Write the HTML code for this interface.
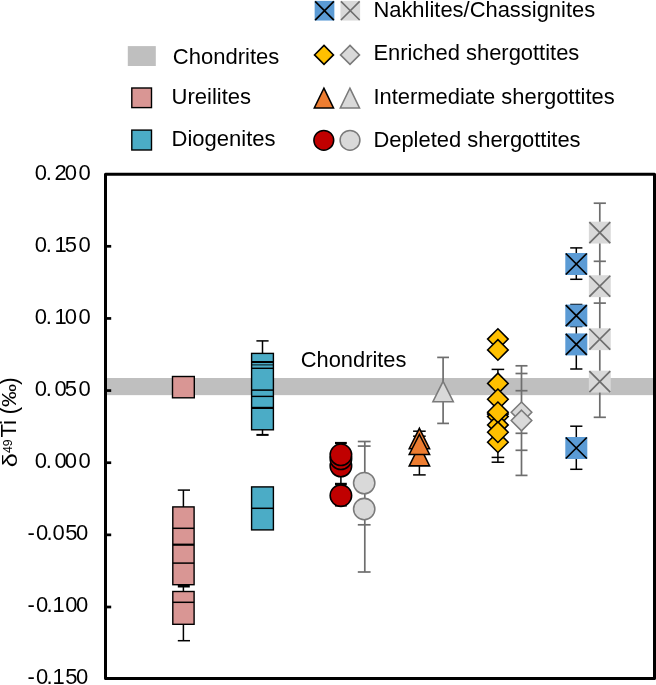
<!DOCTYPE html>
<html><head><meta charset="utf-8"><title>Ti isotopes</title>
<style>
html,body{margin:0;padding:0;background:#fff}
svg{display:block}
text{font-family:"Liberation Sans",sans-serif;fill:#000}
</style></head><body>
<svg width="656" height="685" viewBox="0 0 656 685">
<rect width="656" height="685" fill="#fff"/>
<rect x="105.50" y="378.00" width="550.00" height="17.15" fill="#bfbfbf"/>
<line x1="183.40" y1="490.10" x2="183.40" y2="640.70" stroke="#000" stroke-width="1.5"/>
<line x1="177.80" y1="490.10" x2="190.00" y2="490.10" stroke="#000" stroke-width="1.5"/>
<line x1="177.80" y1="640.70" x2="190.00" y2="640.70" stroke="#000" stroke-width="1.5"/>
<line x1="177.80" y1="586.20" x2="189.80" y2="586.20" stroke="#000" stroke-width="2.6"/>
<rect x="172.50" y="376.50" width="21.80" height="21.30" fill="#d99694" stroke="#000" stroke-width="1.4"/>
<rect x="172.80" y="506.90" width="21.30" height="77.80" fill="#d99694" stroke="#000" stroke-width="1.4"/>
<line x1="172.80" y1="528.30" x2="194.10" y2="528.30" stroke="#000" stroke-width="1.5"/>
<line x1="172.80" y1="544.70" x2="194.10" y2="544.70" stroke="#000" stroke-width="2.2"/>
<line x1="172.80" y1="563.10" x2="194.10" y2="563.10" stroke="#000" stroke-width="1.5"/>
<rect x="172.80" y="591.50" width="21.30" height="32.80" fill="#d99694" stroke="#000" stroke-width="1.4"/>
<line x1="172.80" y1="602.30" x2="194.10" y2="602.30" stroke="#000" stroke-width="1.5"/>
<line x1="262.50" y1="340.90" x2="262.50" y2="434.90" stroke="#000" stroke-width="1.5"/>
<line x1="256.40" y1="340.90" x2="268.60" y2="340.90" stroke="#000" stroke-width="1.5"/>
<line x1="256.40" y1="434.90" x2="268.60" y2="434.90" stroke="#000" stroke-width="2.0"/>
<rect x="251.60" y="353.40" width="21.80" height="76.40" fill="#4bacc6" stroke="#000" stroke-width="1.4"/>
<line x1="251.60" y1="362.00" x2="273.40" y2="362.00" stroke="#000" stroke-width="2.0"/>
<line x1="251.60" y1="364.90" x2="273.40" y2="364.90" stroke="#000" stroke-width="0.9"/>
<line x1="251.60" y1="368.30" x2="273.40" y2="368.30" stroke="#000" stroke-width="1.4"/>
<line x1="251.60" y1="390.10" x2="273.40" y2="390.10" stroke="#000" stroke-width="1.5"/>
<line x1="251.60" y1="396.40" x2="273.40" y2="396.40" stroke="#000" stroke-width="1.4"/>
<line x1="251.60" y1="407.90" x2="273.40" y2="407.90" stroke="#000" stroke-width="2.2"/>
<rect x="251.60" y="486.90" width="21.80" height="43.00" fill="#4bacc6" stroke="#000" stroke-width="1.4"/>
<line x1="251.60" y1="508.30" x2="273.40" y2="508.30" stroke="#000" stroke-width="1.5"/>
<line x1="340.90" y1="443.00" x2="340.90" y2="505.70" stroke="#000" stroke-width="1.5"/>
<line x1="335.00" y1="443.00" x2="346.80" y2="443.00" stroke="#000" stroke-width="2.2"/>
<line x1="335.00" y1="484.00" x2="346.80" y2="484.00" stroke="#000" stroke-width="2.4"/>
<line x1="335.00" y1="505.70" x2="346.80" y2="505.70" stroke="#000" stroke-width="1.8"/>
<circle cx="340.90" cy="466.00" r="10.75" fill="#c00000" stroke="#000" stroke-width="1.55"/>
<circle cx="340.90" cy="458.80" r="10.75" fill="#c00000" stroke="#000" stroke-width="1.55"/>
<circle cx="340.90" cy="454.80" r="10.75" fill="#c00000" stroke="#000" stroke-width="1.55"/>
<circle cx="340.90" cy="495.60" r="10.75" fill="#c00000" stroke="#000" stroke-width="1.55"/>
<line x1="364.80" y1="441.50" x2="364.80" y2="572.00" stroke="#6e6e6e" stroke-width="1.7"/>
<line x1="357.80" y1="441.50" x2="370.60" y2="441.50" stroke="#6e6e6e" stroke-width="1.7"/>
<line x1="357.80" y1="446.10" x2="370.60" y2="446.10" stroke="#6e6e6e" stroke-width="1.7"/>
<line x1="357.80" y1="524.80" x2="370.60" y2="524.80" stroke="#6e6e6e" stroke-width="1.7"/>
<line x1="357.80" y1="572.00" x2="370.60" y2="572.00" stroke="#6e6e6e" stroke-width="1.7"/>
<circle cx="364.20" cy="483.10" r="10.65" fill="#d9d9d9" stroke="#7a7a7a" stroke-width="1.55"/>
<circle cx="364.20" cy="509.00" r="10.65" fill="#d9d9d9" stroke="#7a7a7a" stroke-width="1.55"/>
<line x1="419.40" y1="431.20" x2="419.40" y2="474.90" stroke="#000" stroke-width="1.5"/>
<line x1="413.10" y1="431.20" x2="425.70" y2="431.20" stroke="#000" stroke-width="1.5"/>
<line x1="413.10" y1="436.20" x2="425.70" y2="436.20" stroke="#000" stroke-width="1.5"/>
<line x1="413.10" y1="474.90" x2="425.70" y2="474.90" stroke="#000" stroke-width="1.5"/>
<path d="M419.40 428.30L429.60 448.75L409.20 448.75Z" fill="#ed7d31" stroke="#000" stroke-width="1.55" stroke-linejoin="miter"/>
<path d="M419.40 445.40L429.60 465.85L409.20 465.85Z" fill="#ed7d31" stroke="#000" stroke-width="1.55" stroke-linejoin="miter"/>
<path d="M419.40 434.50L429.60 454.45L409.20 454.45Z" fill="#ed7d31" stroke="#000" stroke-width="1.55" stroke-linejoin="miter"/>
<line x1="443.10" y1="357.40" x2="443.10" y2="423.40" stroke="#6e6e6e" stroke-width="1.7"/>
<line x1="437.20" y1="357.40" x2="449.00" y2="357.40" stroke="#6e6e6e" stroke-width="1.7"/>
<line x1="437.20" y1="423.40" x2="449.00" y2="423.40" stroke="#6e6e6e" stroke-width="1.7"/>
<path d="M443.10 381.30L453.30 401.65L432.90 401.65Z" fill="#d9d9d9" stroke="#7a7a7a" stroke-width="1.55" stroke-linejoin="miter"/>
<line x1="497.90" y1="369.40" x2="497.90" y2="462.20" stroke="#000" stroke-width="1.5"/>
<line x1="491.60" y1="369.40" x2="504.20" y2="369.40" stroke="#000" stroke-width="1.5"/>
<line x1="491.60" y1="457.40" x2="504.20" y2="457.40" stroke="#000" stroke-width="1.5"/>
<line x1="491.60" y1="462.20" x2="504.20" y2="462.20" stroke="#000" stroke-width="1.5"/>
<path d="M497.90 328.80L508.20 339.10L497.90 349.40L487.60 339.10Z" fill="#ffc000" stroke="#000" stroke-width="1.55" stroke-linejoin="miter"/>
<path d="M497.90 339.60L508.20 349.90L497.90 360.20L487.60 349.90Z" fill="#ffc000" stroke="#000" stroke-width="1.55" stroke-linejoin="miter"/>
<path d="M497.90 373.10L508.20 383.40L497.90 393.70L487.60 383.40Z" fill="#ffc000" stroke="#000" stroke-width="1.55" stroke-linejoin="miter"/>
<path d="M497.90 389.00L508.20 399.30L497.90 409.60L487.60 399.30Z" fill="#ffc000" stroke="#000" stroke-width="1.55" stroke-linejoin="miter"/>
<path d="M497.90 403.70L508.20 414.00L497.90 424.30L487.60 414.00Z" fill="#ffc000" stroke="#000" stroke-width="1.55" stroke-linejoin="miter"/>
<path d="M497.90 406.30L508.20 416.60L497.90 426.90L487.60 416.60Z" fill="#ffc000" stroke="#000" stroke-width="1.55" stroke-linejoin="miter"/>
<path d="M497.90 414.60L508.20 424.90L497.90 435.20L487.60 424.90Z" fill="#ffc000" stroke="#000" stroke-width="1.55" stroke-linejoin="miter"/>
<path d="M497.90 431.90L508.20 442.20L497.90 452.50L487.60 442.20Z" fill="#ffc000" stroke="#000" stroke-width="1.55" stroke-linejoin="miter"/>
<path d="M497.90 402.00L508.20 412.30L497.90 422.60L487.60 412.30Z" fill="#ffc000" stroke="#000" stroke-width="1.55" stroke-linejoin="miter"/>
<path d="M497.90 421.90L508.20 432.20L497.90 442.50L487.60 432.20Z" fill="#ffc000" stroke="#000" stroke-width="1.55" stroke-linejoin="miter"/>
<line x1="521.50" y1="365.80" x2="521.50" y2="475.40" stroke="#6e6e6e" stroke-width="1.7"/>
<line x1="515.50" y1="365.80" x2="527.50" y2="365.80" stroke="#6e6e6e" stroke-width="1.7"/>
<line x1="515.50" y1="373.50" x2="527.50" y2="373.50" stroke="#6e6e6e" stroke-width="1.7"/>
<line x1="515.50" y1="390.70" x2="527.50" y2="390.70" stroke="#6e6e6e" stroke-width="1.7"/>
<line x1="515.50" y1="433.30" x2="527.50" y2="433.30" stroke="#6e6e6e" stroke-width="1.7"/>
<line x1="515.50" y1="450.30" x2="527.50" y2="450.30" stroke="#6e6e6e" stroke-width="1.7"/>
<line x1="515.50" y1="475.40" x2="527.50" y2="475.40" stroke="#6e6e6e" stroke-width="1.7"/>
<path d="M521.50 402.00L531.80 412.30L521.50 422.60L511.20 412.30Z" fill="#d9d9d9" stroke="#7a7a7a" stroke-width="1.55" stroke-linejoin="miter"/>
<path d="M521.50 410.20L531.80 420.50L521.50 430.80L511.20 420.50Z" fill="#d9d9d9" stroke="#7a7a7a" stroke-width="1.55" stroke-linejoin="miter"/>
<line x1="576.30" y1="247.90" x2="576.30" y2="279.30" stroke="#000" stroke-width="1.5"/>
<line x1="576.30" y1="304.50" x2="576.30" y2="369.00" stroke="#000" stroke-width="1.5"/>
<line x1="570.20" y1="247.90" x2="582.40" y2="247.90" stroke="#000" stroke-width="1.5"/>
<line x1="570.20" y1="279.30" x2="582.40" y2="279.30" stroke="#000" stroke-width="1.5"/>
<line x1="570.20" y1="304.50" x2="582.40" y2="304.50" stroke="#000" stroke-width="1.5"/>
<line x1="570.20" y1="326.50" x2="582.40" y2="326.50" stroke="#000" stroke-width="1.5"/>
<line x1="570.20" y1="369.00" x2="582.40" y2="369.00" stroke="#000" stroke-width="1.5"/>
<line x1="576.30" y1="426.20" x2="576.30" y2="469.30" stroke="#000" stroke-width="1.5"/>
<line x1="570.20" y1="426.20" x2="582.40" y2="426.20" stroke="#000" stroke-width="1.5"/>
<line x1="570.20" y1="469.30" x2="582.40" y2="469.30" stroke="#000" stroke-width="1.5"/>
<rect x="565.30" y="253.00" width="22.00" height="22.00" fill="#5b9bd5"/>
<path d="M565.80 253.50L586.80 274.50M586.80 253.50L565.80 274.50" stroke="#000" stroke-width="1.7" fill="none"/>
<rect x="565.30" y="304.60" width="22.00" height="22.00" fill="#5b9bd5"/>
<path d="M565.80 305.10L586.80 326.10M586.80 305.10L565.80 326.10" stroke="#000" stroke-width="1.7" fill="none"/>
<rect x="565.30" y="333.40" width="22.00" height="22.00" fill="#5b9bd5"/>
<path d="M565.80 333.90L586.80 354.90M586.80 333.90L565.80 354.90" stroke="#000" stroke-width="1.7" fill="none"/>
<rect x="565.30" y="437.00" width="22.00" height="22.00" fill="#5b9bd5"/>
<path d="M565.80 437.50L586.80 458.50M586.80 437.50L565.80 458.50" stroke="#000" stroke-width="1.7" fill="none"/>
<line x1="599.80" y1="203.20" x2="599.80" y2="417.30" stroke="#6e6e6e" stroke-width="1.7"/>
<line x1="593.70" y1="203.20" x2="605.90" y2="203.20" stroke="#6e6e6e" stroke-width="1.7"/>
<line x1="593.70" y1="261.30" x2="605.90" y2="261.30" stroke="#6e6e6e" stroke-width="1.7"/>
<line x1="593.70" y1="303.10" x2="605.90" y2="303.10" stroke="#6e6e6e" stroke-width="1.7"/>
<line x1="593.70" y1="417.30" x2="605.90" y2="417.30" stroke="#6e6e6e" stroke-width="1.7"/>
<rect x="588.85" y="221.65" width="21.90" height="21.90" fill="#d9d9d9"/>
<path d="M589.35 222.15L610.25 243.05M610.25 222.15L589.35 243.05" stroke="#6e6e6e" stroke-width="1.7" fill="none"/>
<rect x="588.85" y="275.25" width="21.90" height="21.90" fill="#d9d9d9"/>
<path d="M589.35 275.75L610.25 296.65M610.25 275.75L589.35 296.65" stroke="#6e6e6e" stroke-width="1.7" fill="none"/>
<rect x="588.85" y="328.25" width="21.90" height="21.90" fill="#d9d9d9"/>
<path d="M589.35 328.75L610.25 349.65M610.25 328.75L589.35 349.65" stroke="#6e6e6e" stroke-width="1.7" fill="none"/>
<rect x="588.85" y="370.65" width="21.90" height="21.90" fill="#d9d9d9"/>
<path d="M589.35 371.15L610.25 392.05M610.25 371.15L589.35 392.05" stroke="#6e6e6e" stroke-width="1.7" fill="none"/>
<path d="M105.5 678.6V174.3H654.5V678.6Z" fill="none" stroke="#000" stroke-width="3" stroke-linejoin="round"/>
<line x1="105.50" y1="246.30" x2="111.20" y2="246.30" stroke="#000" stroke-width="2.7"/>
<line x1="105.50" y1="318.44" x2="111.20" y2="318.44" stroke="#000" stroke-width="2.7"/>
<line x1="105.50" y1="390.58" x2="111.20" y2="390.58" stroke="#000" stroke-width="2.7"/>
<line x1="105.50" y1="462.72" x2="111.20" y2="462.72" stroke="#000" stroke-width="2.7"/>
<line x1="105.50" y1="534.86" x2="111.20" y2="534.86" stroke="#000" stroke-width="2.7"/>
<line x1="105.50" y1="607.00" x2="111.20" y2="607.00" stroke="#000" stroke-width="2.7"/>
<text x="34.8 45.7 54.5 64.8 78.4" y="179.60" font-size="22">0.200</text>
<text x="34.8 45.7 54.5 64.8 78.4" y="251.64" font-size="22">0.150</text>
<text x="34.8 45.7 54.5 64.8 78.4" y="323.68" font-size="22">0.100</text>
<text x="34.8 45.7 54.5 64.8 78.4" y="395.72" font-size="22">0.050</text>
<text x="34.8 45.7 54.5 64.8 78.4" y="467.76" font-size="22">0.000</text>
<text x="27.5 36.1 46.6 52.6 65.3 76.1" y="539.80" font-size="22">-0.050</text>
<text x="27.5 36.1 46.6 52.6 65.3 76.1" y="611.84" font-size="22">-0.100</text>
<text x="27.5 36.1 46.6 52.6 65.3 76.1" y="683.88" font-size="22">-0.150</text>
<text transform="translate(16.60,467.20) rotate(-90) scale(1.18,0.9)" font-size="21.5">δ</text>
<text transform="translate(11.70,453.00) rotate(-90) scale(1.0,1.0)" font-size="12.3">49</text>
<text transform="translate(16.10,437.60) rotate(-90) scale(1.0,1.0)" font-size="22">Ti</text>
<text transform="translate(16.70,414.40) rotate(-90) scale(1.0,1.0)" font-size="23">(</text>
<text transform="translate(16.40,407.10) rotate(-90) scale(1.1,1.0)" font-size="21">‰</text>
<text transform="translate(16.70,385.00) rotate(-90) scale(1.0,1.0)" font-size="23">)</text>
<text x="300.8" y="366.7" font-size="21.85">Chondrites</text>
<rect x="127.80" y="46.10" width="28.00" height="19.90" fill="#bfbfbf"/>
<text x="172.8" y="63.9" font-size="22.03">Chondrites</text>
<rect x="131.80" y="88.00" width="19.70" height="19.60" fill="#d99694" stroke="#000" stroke-width="1.4"/>
<text x="171.6" y="103.6" font-size="22.03">Ureilites</text>
<rect x="131.80" y="130.10" width="19.70" height="19.90" fill="#4bacc6" stroke="#000" stroke-width="1.4"/>
<text x="171.5" y="146.4" font-size="22.03">Diogenites</text>
<rect x="314.65" y="0.85" width="19.70" height="19.70" fill="#5b9bd5"/>
<path d="M315.15 1.35L333.85 20.05M333.85 1.35L315.15 20.05" stroke="#000" stroke-width="1.7" fill="none"/>
<rect x="340.45" y="0.85" width="19.70" height="19.70" fill="#d9d9d9"/>
<path d="M340.95 1.35L359.65 20.05M359.65 1.35L340.95 20.05" stroke="#6e6e6e" stroke-width="1.6" fill="none"/>
<text x="373.4" y="16.5" font-size="21.93">Nakhlites/Chassignites</text>
<path d="M324.00 45.40L333.50 54.90L324.00 64.40L314.50 54.90Z" fill="#ffc000" stroke="#000" stroke-width="1.55" stroke-linejoin="miter"/>
<path d="M350.00 45.40L359.50 54.90L350.00 64.40L340.50 54.90Z" fill="#d9d9d9" stroke="#7a7a7a" stroke-width="1.55" stroke-linejoin="miter"/>
<text x="373.4" y="60.3" font-size="21.93">Enriched shergottites</text>
<path d="M323.90 88.20L333.50 107.90L314.30 107.90Z" fill="#ed7d31" stroke="#000" stroke-width="1.55" stroke-linejoin="miter"/>
<path d="M349.90 88.20L359.50 107.90L340.30 107.90Z" fill="#d9d9d9" stroke="#7a7a7a" stroke-width="1.55" stroke-linejoin="miter"/>
<text x="373.4" y="103.8" font-size="21.93">Intermediate shergottites</text>
<circle cx="323.80" cy="140.30" r="9.90" fill="#c00000" stroke="#000" stroke-width="1.55"/>
<circle cx="350.00" cy="140.30" r="9.90" fill="#d9d9d9" stroke="#7a7a7a" stroke-width="1.55"/>
<text x="373.4" y="146.5" font-size="21.93">Depleted shergottites</text>
</svg>
</body></html>
